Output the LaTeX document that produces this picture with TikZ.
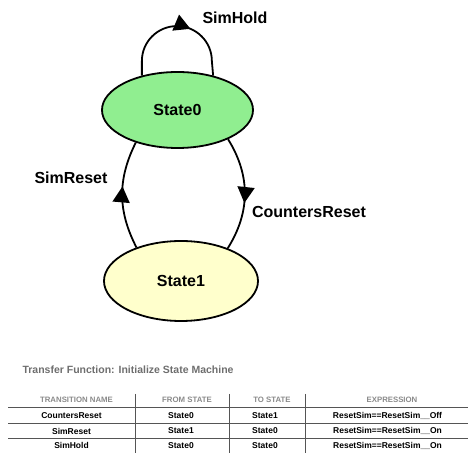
\documentclass[tikz,border=0pt]{standalone}
\usepackage{fontspec}
\setmainfont{Liberation Sans}
\usetikzlibrary{arrows.meta, positioning, shapes.geometric, decorations.markings}
\definecolor{stzero} {HTML}{90EE90}
\definecolor{stone}  {HTML}{FFFFCC}
\definecolor{ttitle} {HTML}{6E6E6E}
\definecolor{thead}  {HTML}{8A8A8A}
\definecolor{trule}  {HTML}{555555}

\begin{document}
\begin{tikzpicture}[x=1pt, y=1pt,
    state/.style={ellipse, draw=black, line width=1.8pt, inner sep=0pt,
                  font=\fontsize{16}{18}\selectfont\bfseries},
    trans/.style={line width=1.8pt, postaction={decorate},
                  decoration={markings, mark=at position #1 with
                    {\arrow{Triangle[length=16pt, width=17pt]}}}},
    trans/.default=0.58,
    tlabel/.style={font=\fontsize{16}{18}\selectfont\bfseries},
    ttl/.style={text=ttitle, font=\fontsize{10.5}{12}\selectfont\bfseries, anchor=west},
    thd/.style={text=thead, font=\fontsize{7.8}{9}\selectfont\bfseries},
    tcell/.style={font=\fontsize{8.5}{10}\selectfont\bfseries},
    trl/.style={trule, line width=0.9pt}
  ]
    \useasboundingbox (0,0) rectangle (474,460);

    % states
    \node[state, fill=stzero, minimum width=151pt, minimum height=76pt] (s0) at (177.5,350) {State0};
    \node[state, fill=stone,  minimum width=154pt, minimum height=80pt] (s1) at (181,281-102) {State1};

    % transitions
    \draw[trans=0.6] (s0.136.7) -- ++(0,14.5) arc[start angle=180, end angle=0, radius=35] -- (s0.44.4);
    \draw[trans] (s1.143.1) to[bend left=27] (s0.218.2);
    \draw[trans] (s0.-30.7) to[bend left=32] (s1.35.7);

    \node[tlabel] (lhold)  at (235,442) {SimHold};
    \node[tlabel] (lreset) at (71,282)  {SimReset};
    \node[tlabel] (lcount) at (309,248) {CountersReset};

    % transfer function table
    \node[ttl] (title) at (19,90) {Transfer Function: Initialize State Machine};

    \node[thd] (h1) at (76.5,60) {TRANSITION NAME};
    \node[thd] (h2) at (187,60)  {FROM STATE};
    \node[thd] (h3) at (272,60)  {TO STATE};
    \node[thd] (h4) at (392,60)  {EXPRESSION};

    \foreach \y in {52.3, 36.7, 21.7}
      \draw[trl] (8,\y) -- (468,\y);
    \foreach \x in {135, 229, 305}
      \draw[trl] (\x,66) -- (\x,7);

    \foreach \n/\y/\a/\b/\c/\d in {
        1/44/CountersReset/State0/State1/ResetSim==ResetSim\_\_Off,
        2/29/SimReset/State1/State0/ResetSim==ResetSim\_\_On,
        3/14.3/SimHold/State0/State0/ResetSim==ResetSim\_\_On} {
      \node[tcell] (r\n a) at (71.5,\y)  {\a};
      \node[tcell] (r\n b) at (181,\y)   {\b};
      \node[tcell] (r\n c) at (265,\y)   {\c};
      \node[tcell] (r\n d) at (387.5,\y) {\d};
    }
  \end{tikzpicture}
\end{document}
